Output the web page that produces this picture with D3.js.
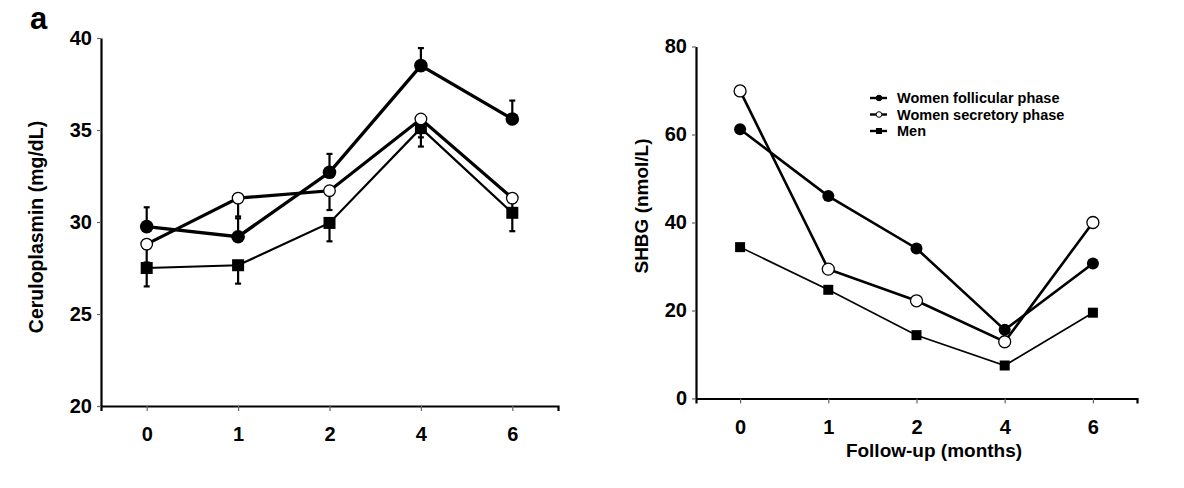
<!DOCTYPE html>
<html>
<head>
<meta charset="utf-8">
<script src="https://cdn.jsdelivr.net/npm/d3@7"></script>
<style>
  body { margin: 0; background: #fff; }
  svg text { font-family: "Liberation Sans", Arial, sans-serif; font-weight: bold; fill: #000; }
</style>
</head>
<body>
<svg id="fig" width="1184" height="488"></svg>
<script>
// Follow-up months (categorical)
var months = ["0", "1", "2", "4", "6"];

// Panel a, left: Ceruloplasmin (mg/dL)
var ceruloFollicular = [29.75, 29.2, 32.7, 38.5, 35.6];
var ceruloFollicularErr = [1.05, 1.0, 1.0, 0.95, 1.0];
var ceruloSecretory = [28.8, 31.3, 31.7, 35.6, 31.3];
var ceruloSecretoryErr = [1.0, 1.0, 1.05, 1.0, 0.8];
var ceruloMen = [27.5, 27.65, 29.95, 35.1, 30.5];
var ceruloMenErr = [1.0, 1.0, 1.0, 1.0, 1.0];

// Right: SHBG (nmol/L)
var shbgFollicular = [61.2, 46.0, 34.1, 15.6, 30.7];
var shbgSecretory = [69.9, 29.4, 22.2, 12.9, 40.0];
var shbgMen = [34.4, 24.7, 14.4, 7.5, 19.5];

var legendLabels = ["Women follicular phase", "Women secretory phase", "Men"];

var svg = d3.select("#fig");

// Panel letter
svg.append("text")
    .attr("x", 30).attr("y", 29)
    .style("font-size", "31px")
    .text("a");

function drawPanel(opts) {
    var g = svg.append("g");

    var x = d3.scaleLinear().domain([-0.5, 4.5]).range(opts.xRange);
    var y = d3.scaleLinear().domain(opts.yDomain).range(opts.yRange);

    // X axis
    var xAxis = g.append("g")
        .attr("transform", "translate(0," + opts.yRange[0] + ")")
        .call(d3.axisBottom(x)
            .tickValues(d3.range(months.length))
            .tickFormat(function (i) { return months[i] })
            .tickSize(5).tickSizeOuter(5).tickPadding(16));
    xAxis.select(".domain").attr("stroke-width", 2.2);
    xAxis.selectAll(".tick line").attr("stroke", "#666").attr("stroke-width", 1.2);
    xAxis.selectAll(".tick text").style("font-size", "20px");

    // Y axis
    var yAxis = g.append("g")
        .attr("transform", "translate(" + opts.xRange[0] + ",0)")
        .call(d3.axisLeft(y)
            .tickValues(opts.yTicks)
            .tickSize(4).tickSizeOuter(0).tickPadding(5));
    yAxis.select(".domain").attr("stroke-width", 2.2);
    yAxis.selectAll(".tick line").attr("stroke", "#666").attr("stroke-width", 1.2);
    yAxis.selectAll(".tick text").style("font-size", "20px");

    // Y label
    g.append("text")
        .attr("transform", "translate(" + opts.yLabelX + "," + opts.yLabelY + ") rotate(-90)")
        .attr("text-anchor", "middle")
        .style("font-size", opts.yLabelSize)
        .text(opts.yLabel);

    if (opts.xLabel) {
        g.append("text")
            .attr("x", opts.xLabelX).attr("y", opts.xLabelY)
            .attr("text-anchor", "middle")
            .style("font-size", "19px")
            .text(opts.xLabel);
    }

    var line = d3.line()
        .x(function (d, i) { return x(i) })
        .y(function (d) { return y(d) });

    opts.series.forEach(function (s) {
        // Error bars
        if (s.err) {
            s.values.forEach(function (v, i) {
                var end = y(v + s.dir * s.err[i]);
                g.append("line")
                    .attr("x1", x(i)).attr("x2", x(i))
                    .attr("y1", y(v)).attr("y2", end)
                    .attr("stroke", "#000").attr("stroke-width", 2.2);
                g.append("line")
                    .attr("x1", x(i) - 3).attr("x2", x(i) + 3)
                    .attr("y1", end).attr("y2", end)
                    .attr("stroke", "#000").attr("stroke-width", 2.2);
            });
        }
        g.append("path")
            .datum(s.values)
            .attr("fill", "none")
            .attr("stroke", "#000")
            .attr("stroke-width", s.width)
            .attr("d", line);
        // Markers
        s.values.forEach(function (v, i) {
            if (s.shape === "square") {
                g.append("rect")
                    .attr("x", x(i) - s.size / 2).attr("y", y(v) - s.size / 2)
                    .attr("width", s.size).attr("height", s.size)
                    .attr("fill", "#000");
            } else {
                g.append("circle")
                    .attr("cx", x(i)).attr("cy", y(v))
                    .attr("r", s.size)
                    .attr("fill", s.shape === "open" ? "#fff" : "#000")
                    .attr("stroke", "#000")
                    .attr("stroke-width", s.shape === "open" ? 1.3 : 0);
            }
        });
    });
    return { g: g, x: x, y: y };
}

drawPanel({
    xRange: [101, 558], yRange: [406, 38], yDomain: [20, 40],
    yTicks: [20, 25, 30, 35, 40],
    yLabel: "Ceruloplasmin (mg/dL)", yLabelX: 43, yLabelY: 227, yLabelSize: "19.5px",
    series: [
        { values: ceruloMen, err: ceruloMenErr, dir: -1, shape: "square", size: 12, width: 2.2 },
        { values: ceruloSecretory, err: ceruloSecretoryErr, dir: -1, shape: "open", size: 5.8, width: 3.2 },
        { values: ceruloFollicular, err: ceruloFollicularErr, dir: 1, shape: "filled", size: 6.8, width: 3.4 }
    ]
});

drawPanel({
    xRange: [696, 1137], yRange: [398.5, 46.5], yDomain: [0, 80],
    yTicks: [0, 20, 40, 60, 80],
    yLabel: "SHBG (nmol/L)", yLabelX: 648, yLabelY: 206, yLabelSize: "19px",
    xLabel: "Follow-up (months)", xLabelX: 934, xLabelY: 457,
    series: [
        { values: shbgMen, shape: "square", size: 10, width: 1.6 },
        { values: shbgSecretory, shape: "open", size: 6, width: 2.6 },
        { values: shbgFollicular, shape: "filled", size: 6, width: 2.6 }
    ]
});

// Legend
var legendShapes = ["filled", "open", "square"];
var legend = svg.append("g").attr("transform", "translate(870,98)");
legendLabels.forEach(function (label, i) {
    var row = legend.append("g").attr("transform", "translate(0," + (i * 16.5) + ")");
    row.append("line")
        .attr("x1", 0).attr("x2", 17).attr("y1", 0).attr("y2", 0)
        .attr("stroke", "#000").attr("stroke-width", 2.4);
    if (legendShapes[i] === "square") {
        row.append("rect").attr("x", 6).attr("y", -3).attr("width", 6).attr("height", 6).attr("fill", "#000");
    } else {
        row.append("circle").attr("cx", 9).attr("cy", 0).attr("r", 2.8)
            .attr("fill", legendShapes[i] === "open" ? "#fff" : "#000")
            .attr("stroke", "#000").attr("stroke-width", 1);
    }
    row.append("text")
        .attr("x", 27).attr("y", 5)
        .style("font-size", "14.5px")
        .text(label);
});
</script>
</body>
</html>
